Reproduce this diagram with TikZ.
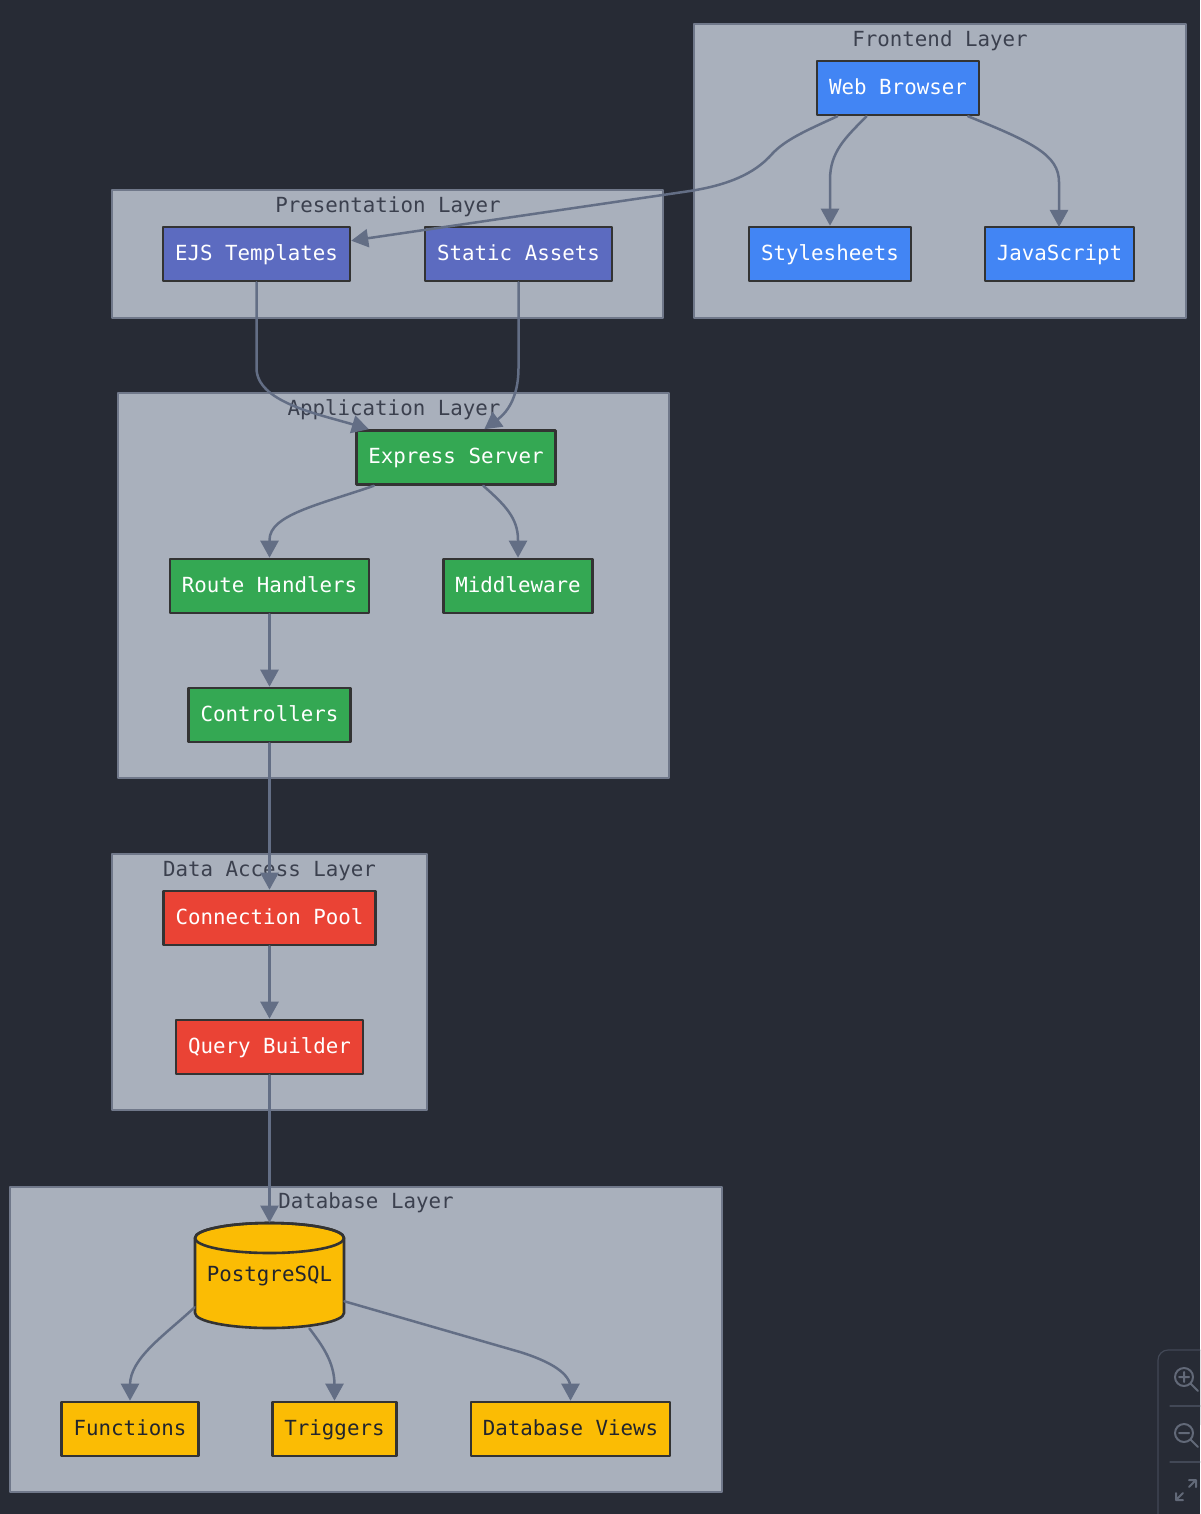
\documentclass[tikz,border=0pt]{standalone}
\usepackage{fontspec}
\newfontfamily\diagfont{DejaVu Sans Mono}
\usepackage{tikz}
\usetikzlibrary{arrows.meta}

\definecolor{bgdark}{RGB}{39,43,53}
\definecolor{layerfill}{RGB}{169,176,188}
\definecolor{layerline}{RGB}{112,120,138}
\definecolor{layertext}{RGB}{59,64,78}
\definecolor{edgeline}{RGB}{99,110,133}
\definecolor{boxline}{RGB}{51,51,51}
\definecolor{frontblue}{RGB}{66,133,244}
\definecolor{presindigo}{RGB}{92,107,192}
\definecolor{appgreen}{RGB}{52,168,83}
\definecolor{datared}{RGB}{234,67,53}
\definecolor{dbyellow}{RGB}{251,188,4}
\definecolor{dbtext}{RGB}{34,37,45}
\definecolor{uigray}{RGB}{98,105,120}
\definecolor{uiframe}{RGB}{66,72,86}

\begin{document}
\begin{tikzpicture}[line cap=round,line join=round,x=0.5pt,y=-0.5pt,
	>={Triangle[length=8.5pt,width=9pt]},
	layer/.style={fill=layerfill,draw=layerline,line width=0.6pt},
	layertitle/.style={text=layertext,text height=8.2pt,text depth=2pt,
		font=\diagfont\fontsize{10.4}{12}\selectfont},
	box/.style={draw=boxline,line width=1.3pt,minimum height=27pt,inner xsep=6pt,inner ysep=0pt,
		text height=8.2pt,text depth=2pt,text=white,font=\diagfont\fontsize{10.4}{12}\selectfont},
	front/.style={box,fill=frontblue},
	pres/.style={box,fill=presindigo},
	app/.style={box,fill=appgreen},
	data/.style={box,fill=datared},
	db/.style={box,fill=dbyellow,text=dbtext},
	link/.style={draw=edgeline,line width=1.25pt,->}]
	\useasboundingbox (0,0) rectangle (1200,1514);
	\clip (0,0) rectangle (1200,1514);
	\fill[bgdark] (0,0) rectangle (1200,1514);

	% layers
	\draw[layer] (694,24) rectangle (1186,318);
	\node[layertitle] (frontendtitle) at (940,40) {Frontend Layer};
	\draw[layer] (112,190) rectangle (663,318);
	\node[layertitle] (presentationtitle) at (388,206) {Presentation Layer};
	\draw[layer] (118,393) rectangle (669,778);
	\node[layertitle] (applicationtitle) at (394,409) {Application Layer};
	\draw[layer] (112,854) rectangle (427,1110);
	\node[layertitle] (dataaccesstitle) at (269.5,870) {Data Access Layer};
	\draw[layer] (10,1187) rectangle (722,1492);
	\node[layertitle] (databasetitle) at (366,1202) {Database Layer};

	% nodes
	\node[front] (wb) at (898,88) {Web Browser};
	\node[front] (ss) at (830,254) {Stylesheets};
	\node[front] (js) at (1059.5,254) {JavaScript};
	\node[pres] (ejs) at (256.5,254) {EJS Templates};
	\node[pres] (sa) at (518.5,254) {Static Assets};
	\node[app] (exp) at (456,457.5) {Express Server};
	\node[app] (rh) at (269.5,586) {Route Handlers};
	\node[app] (mw) at (518,586) {Middleware};
	\node[app] (ctl) at (269.5,715) {Controllers};
	\node[data] (pool) at (269.5,918) {Connection Pool};
	\node[data] (qb) at (269.5,1047) {Query Builder};

	\draw[fill=dbyellow,draw=boxline,line width=1.3pt] (195,1238) -- (195,1313)
		arc[start angle=180,end angle=360,x radius=37.25pt,y radius=7.5pt] -- (344,1238)
		arc[start angle=0,end angle=180,x radius=37.25pt,y radius=7.5pt] -- cycle;
	\draw[draw=boxline,line width=1.3pt] (269.5,1238) ellipse[x radius=37.25pt,y radius=7.5pt];
	\node[text=dbtext,font=\diagfont\fontsize{10.4}{12}\selectfont,text height=8.2pt,text depth=2pt,
		minimum width=74.5pt,minimum height=52.5pt,inner sep=0pt] (pg) at (269.5,1275.5) {PostgreSQL};

	\node[db] (fn) at (130,1429) {Functions};
	\node[db] (tr) at (334.5,1429) {Triggers};
	\node[db] (dv) at (570.5,1429) {Database Views};

	% connectors
	\draw[link] (wb.205) .. controls (805,131) and (785,140) .. (772,154)
		.. controls (758,170) and (735,184) .. (690,191) -- (ejs.8);
	\draw[link] (wb.222) .. controls (845,138) and (830,152) .. (830,180) -- (ss.north);
	\draw[link] (wb.338) .. controls (1032,142) and (1059,155) .. (1059,182) -- (1059,227);
	\draw[link] (ejs.south) -- (256.5,368) .. controls (256.5,402) and (318,414) .. (exp.162.6);
	\draw[link] (sa.south) -- (518.5,368) .. controls (518.5,400) and (505,414) .. (exp.45.5);
	\draw[link] (exp.199) .. controls (318,505) and (269.5,515) .. (269.5,540) -- (rh.north);
	\draw[link] (exp.314.5) .. controls (505,505) and (518,518) .. (518,540) -- (mw.north);
	\draw[link] (rh.south) -- (ctl.north);
	\draw[link] (ctl.south) -- (pool.north);
	\draw[link] (pool.south) -- (qb.north);
	\draw[link] (qb.south) -- (pg.north);
	\draw[link] (pg.203) .. controls (165,1335) and (130,1358) .. (130,1385) -- (fn.north);
	\draw[link] (pg.307) .. controls (322,1345) and (334.5,1362) .. (334.5,1385) -- (tr.north);
	\draw[link] (pg.341) -- (520,1352) .. controls (552,1362) and (570.5,1374) .. (570.5,1388) -- (dv.north);

	% zoom controls
	\draw[uiframe,fill=bgdark,line width=0.6pt,rounded corners=5pt] (1158,1530) -- (1158,1350) -- (1230,1350);
	\draw[uiframe,line width=0.6pt] (1170,1406) -- (1200,1406) (1170,1462) -- (1200,1462);
	\draw[uigray,line width=1pt] (1184,1377) circle[radius=4.5pt] (1191,1384) -- (1198,1391)
		(1179,1377) -- (1189,1377) (1184,1372) -- (1184,1382);
	\draw[uigray,line width=1pt] (1184,1433) circle[radius=4.5pt] (1191,1440) -- (1198,1447)
		(1179,1433) -- (1189,1433);
	\draw[uigray,line width=1pt] (1176,1500) -- (1183,1493) (1176,1493) -- (1176,1500) -- (1183,1500)
		(1189,1487) -- (1196,1480) (1189,1480) -- (1196,1480) -- (1196,1487);
\end{tikzpicture}
\end{document}
